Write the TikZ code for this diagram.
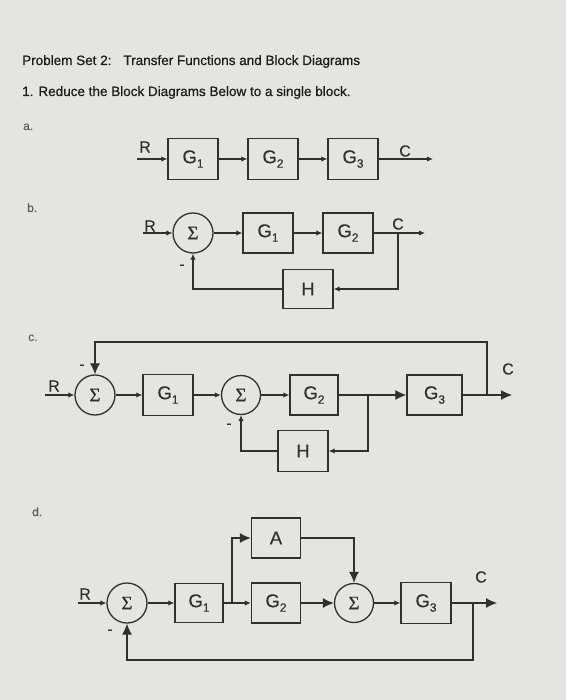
\documentclass[tikz,border=0pt]{standalone}
\usepackage{fontspec}
\setmainfont{Liberation Sans}
\newfontfamily\sigfont{Liberation Serif}[FakeBold=0.4]
\newfontfamily\hf{Liberation Sans}[FakeBold=0.7]
\newfontfamily\df{Liberation Sans}[FakeBold=0.3]
\usetikzlibrary{arrows.meta}
\definecolor{bg}{RGB}{228,228,224}
\definecolor{ink}{RGB}{48,48,48}
\definecolor{txt}{RGB}{28,28,30}
\definecolor{lab}{RGB}{95,95,95}
\newcommand\Gs[1]{G\raisebox{-4.5pt}{\fontsize{12}{12}\selectfont #1}}
\begin{document}
\begin{tikzpicture}[x=1pt,y=-1pt,
  blk/.style={draw=ink,line width=1.3pt,minimum width=50pt,minimum height=41pt,inner sep=0pt,text=ink,font=\df\fontsize{18.5}{18.5}\selectfont},
  sum/.style={draw=ink,circle,line width=1.3pt,minimum size=40pt,inner sep=0pt,text=ink,font=\sigfont\fontsize{19}{19}\selectfont},
  lbl/.style={text=ink,inner sep=0pt,font=\df\fontsize{16}{16}\selectfont},
  head/.style={text=txt,inner sep=0pt,anchor=base west,font=\hf\fontsize{13.5}{14}\selectfont},
  part/.style={text=lab,inner sep=0pt,anchor=base west,font=\df\fontsize{12}{12}\selectfont},
  ln/.style={draw=ink,line width=1.2pt},
  sa/.style={ln,-{Latex[length=6pt,width=5.5pt]}},
  ba/.style={ln,-{Latex[length=11pt,width=10pt]}}]
\fill[bg] (0,0) rectangle (566,700);
\useasboundingbox (0,0) rectangle (566,700);
% headings
\node[head] (t1) at (22,65) {Problem Set 2:\hspace{12pt}Transfer Functions and Block Diagrams};
\node[head] (t2) at (22,96) {1. Reduce the Block Diagrams Below to a single block.};
\node[part] (pa) at (23,130) {a.};
\node[part] (pb) at (27,212) {b.};
\node[part] (pc) at (28,341) {c.};
\node[part] (pd) at (32,516) {d.};
% ---- a
\node[lbl] (aR) at (145,147) {R};
\coordinate (ain) at (137,159);
\node[blk] (aG1) at (193,159) {\Gs{1}};
\node[blk] (aG2) at (273,159) {\Gs{2}};
\node[blk] (aG3) at (353,159) {\Gs{3}};
\coordinate (aout) at (433,159);
\node[lbl] (aC) at (405,151) {C};
\draw[sa] (ain) -- (aG1);
\draw[sa] (aG1) -- (aG2);
\draw[sa] (aG2) -- (aG3);
\draw[sa] (aG3) -- (aout);
% ---- b
\node[lbl] (bR) at (150,226) {R};
\coordinate (bin) at (143,233);
\node[sum] (bS) at (193,233) {Σ};
\node[blk,minimum height=40pt] (bG1) at (268,233) {\Gs{1}};
\node[blk,minimum height=40pt] (bG2) at (348,233) {\Gs{2}};
\coordinate (bbr) at (398,233);
\coordinate (bout) at (425,233);
\node[lbl] (bC) at (398,224) {C};
\node[blk,minimum height=39pt] (bH) at (308,289) {H};
\node[lbl] (bm) at (182,267) {-};
\draw[sa] (bin) -- (bS);
\draw[sa] (bS) -- (bG1);
\draw[sa] (bG1) -- (bG2);
\draw[sa] (bG2) -- (bout);
\draw[sa] (bbr) |- (bH);
\draw[sa] (bH) -| (bS);
% ---- c
\node[lbl] (cR) at (54,386) {R};
\coordinate (cin) at (45,395);
\node[sum] (cS1) at (95,395) {Σ};
\node[blk] (cG1) at (168,395) {\Gs{1}};
\node[sum,minimum size=39pt] (cS2) at (241,395) {Σ};
\node[blk,minimum width=48pt,minimum height=40pt] (cG2) at (314,395) {\Gs{2}};
\coordinate (cbr) at (368,395);
\node[blk,minimum width=55pt,minimum height=40pt] (cG3) at (434.5,395) {\Gs{3}};
\coordinate (cfb) at (487,395);
\coordinate (ctop) at (487,342);
\coordinate (cout) at (512,395);
\node[lbl] (cC) at (508,369) {C};
\node[blk,minimum height=41pt] (cH) at (303,451) {H};
\node[lbl] (cm1) at (82,367) {-};
\node[lbl] (cm2) at (229,426) {-};
\draw[sa] (cin) -- (cS1);
\draw[sa] (cS1) -- (cG1);
\draw[sa] (cG1) -- (cS2);
\draw[sa] (cS2) -- (cG2);
\draw[ba] (cG2) -- (cG3);
\draw[ba] (cG3) -- (cout);
\draw[sa] (cbr) |- (cH);
\draw[sa] (cH) -| (cS2);
\draw[ba] (cfb) -- (ctop) -| (cS1);
% ---- d
\node[lbl] (dR) at (85,594) {R};
\coordinate (din) at (78,603);
\node[sum] (dS1) at (127,603) {Σ};
\node[blk,minimum width=48pt,minimum height=39pt] (dG1) at (199,603) {\Gs{1}};
\coordinate (dbr) at (232,603);
\node[blk,minimum width=49pt,minimum height=40pt] (dA) at (276,538) {A};
\node[blk,minimum width=49pt,minimum height=40pt] (dG2) at (276,603) {\Gs{2}};
\node[sum,minimum size=39pt] (dS2) at (354,603) {Σ};
\node[blk,minimum width=50pt,minimum height=41pt] (dG3) at (426,603) {\Gs{3}};
\coordinate (dfb) at (473,603);
\coordinate (dbot) at (473,660);
\coordinate (dout) at (497,603);
\node[lbl] (dC) at (481,577) {C};
\node[lbl] (dm) at (110,632) {-};
\draw[sa] (din) -- (dS1);
\draw[sa] (dS1) -- (dG1);
\draw[sa] (dG1) -- (dG2);
\draw[ba] (dbr) |- (dA);
\draw[ba] (dA) -| (dS2);
\draw[ba] (dG2) -- (dS2);
\draw[sa] (dS2) -- (dG3);
\draw[ba] (dG3) -- (dout);
\draw[ba] (dfb) -- (dbot) -| (dS1);
\end{tikzpicture}
\end{document}
